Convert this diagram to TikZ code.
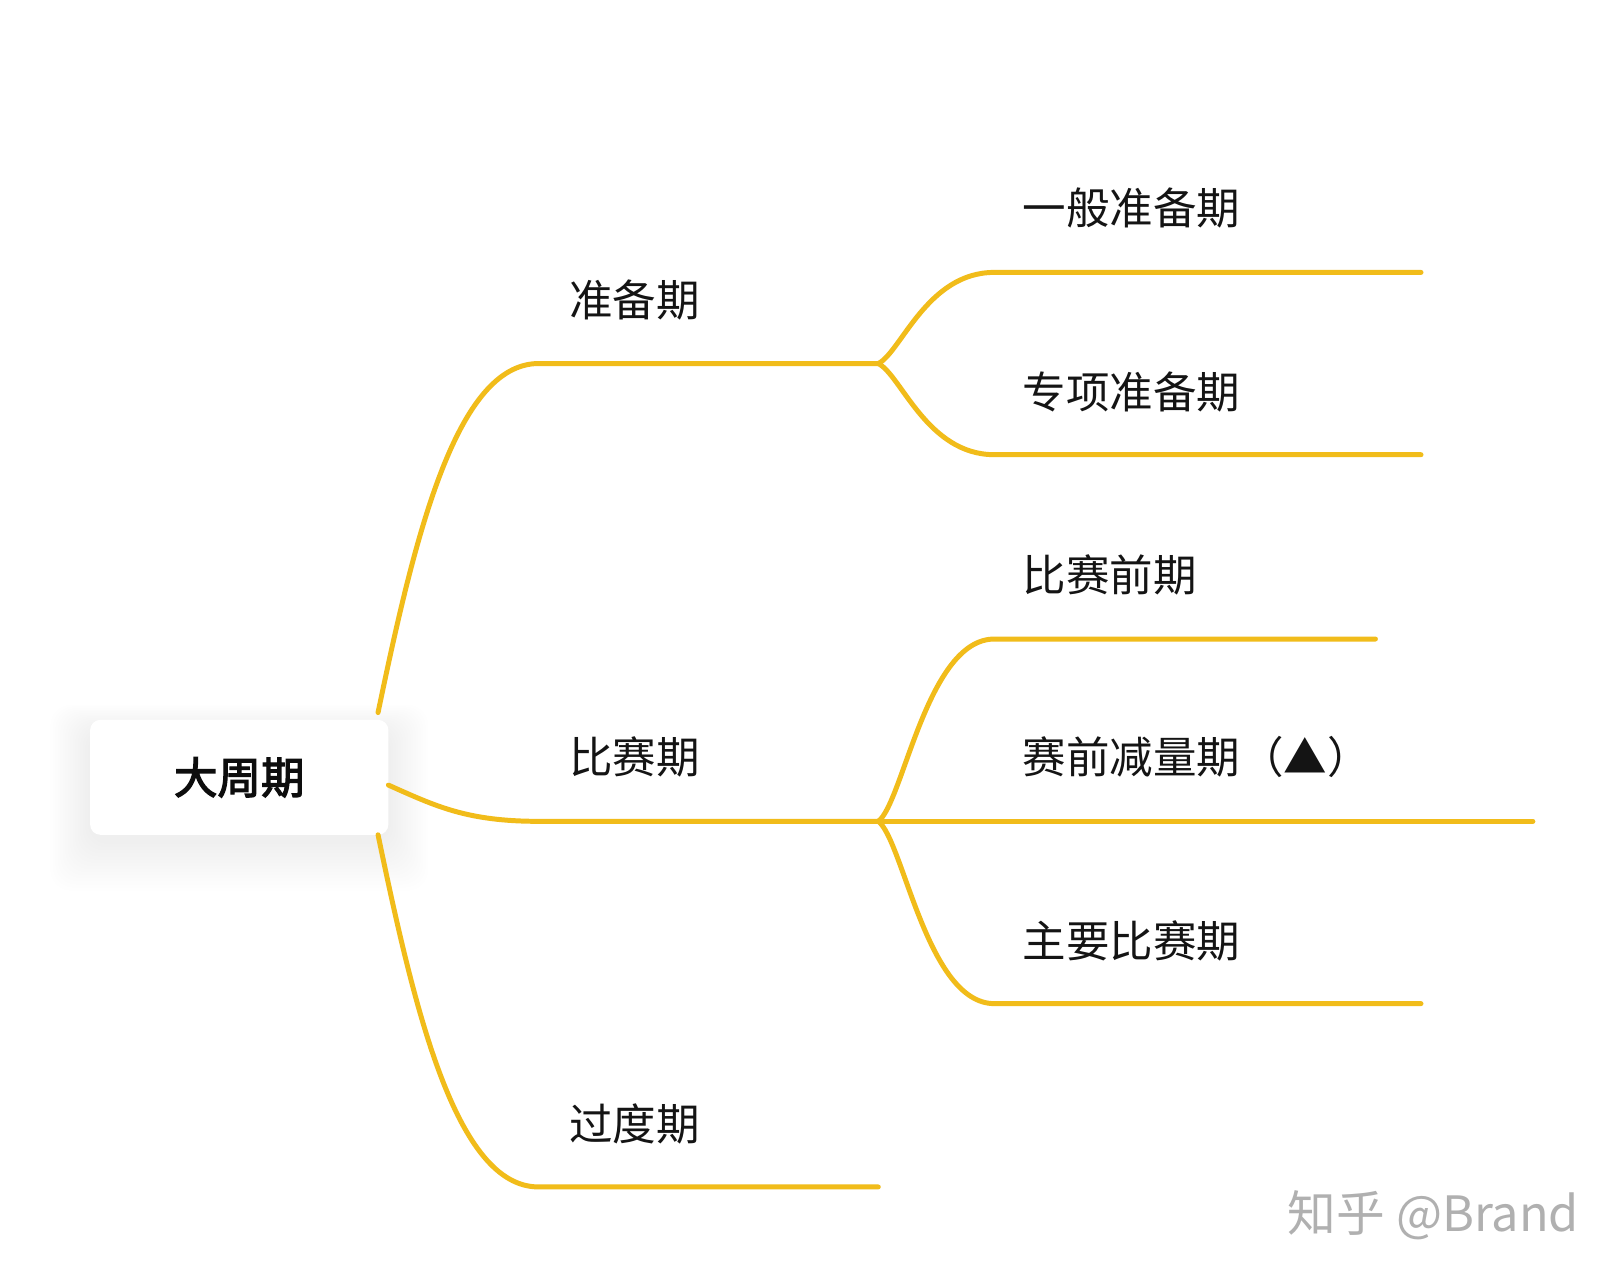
\documentclass[tikz,border=0pt]{standalone}
\usepackage{fontspec}
\newfontfamily\cjk{Noto Sans CJK SC}
\newfontfamily\cjkmed[FakeBold=3]{Noto Sans CJK SC}
\definecolor{linecol}{RGB}{241,188,26}
\definecolor{wmcol}{RGB}{176,176,176}
\begin{document}
\begin{tikzpicture}[x=0.5pt,y=-0.5pt,
  branch/.style={draw=linecol, line width=2.4pt, line cap=round},
  lab/.style={anchor=west, inner sep=0pt, font=\cjk\fontsize{21}{21}\selectfont, text=black!92},
  rootbox/.style={fill=white, rounded corners=5pt, minimum width=144pt, minimum height=55.5pt, inner sep=0pt, font=\cjkmed\fontsize{21}{21}\selectfont, text=black!95}]
\useasboundingbox (0,0) rectangle (1568,1237);
\fill[white] (0,0) rectangle (1568,1237);
% soft shadow of root box
\foreach \i in {1,...,16}
  \fill[black, opacity=0.0055, rounded corners=10pt] (87-\i*2.4, 706-\i*1.6) rectangle (375+\i*2.4, 812+\i*3.0);
\node[rootbox] (root) at (231,750.5) {大周期};
% junction coordinates
\coordinate (r1) at (365,688);
\coordinate (r2) at (375,758);
\coordinate (r3) at (365,806);
\coordinate (p1a) at (520,351);  \coordinate (p1b) at (848,351);
\coordinate (p2a) at (520,793);  \coordinate (p2b) at (848,793);
\coordinate (p3a) at (520,1146); \coordinate (p3b) at (848,1146);
\coordinate (c1a) at (960,263);  \coordinate (c1b) at (1372,263);
\coordinate (c2a) at (960,439);  \coordinate (c2b) at (1372,439);
\coordinate (c3a) at (960,617);  \coordinate (c3b) at (1328,617);
\coordinate (c4b) at (1480,793);
\coordinate (c5a) at (960,969);  \coordinate (c5b) at (1372,969);
% level 1 connectors
\draw[branch] (r1) .. controls (400,520) and (440,351) .. (p1a) -- (p1b);
\draw[branch] (r2) .. controls (420,778) and (450,793) .. (p2a) -- (p2b);
\draw[branch] (r3) .. controls (400,974) and (440,1146) .. (p3a) -- (p3b);
% level 2 connectors
\draw[branch] (p1b) .. controls (870,340) and (895,263) .. (c1a) -- (c1b);
\draw[branch] (p1b) .. controls (870,362) and (895,439) .. (c2a) -- (c2b);
\draw[branch] (p2b) .. controls (872,775) and (895,617) .. (c3a) -- (c3b);
\draw[branch] (p2b) -- (c4b);
\draw[branch] (p2b) .. controls (872,811) and (895,969) .. (c5a) -- (c5b);
% labels
\node[lab] (l1) at (549,290) {准备期};
\node[lab] (l2) at (549,731) {比赛期};
\node[lab] (l3) at (549,1085) {过度期};
\node[lab] (m1) at (987,201) {一般准备期};
\node[lab] (m2) at (987,378) {专项准备期};
\node[lab] (m3) at (987,555) {比赛前期};
\node[lab] (m4) at (987,731) {赛前减量期（▲）};
\node[lab] (m5) at (987,908) {主要比赛期};
% watermark
\node[anchor=west, inner sep=0pt, font=\cjk\fontsize{23.5}{23.5}\selectfont, text=wmcol] (wm) at (1243,1173) {知乎 @Brand};
\end{tikzpicture}
\end{document}
